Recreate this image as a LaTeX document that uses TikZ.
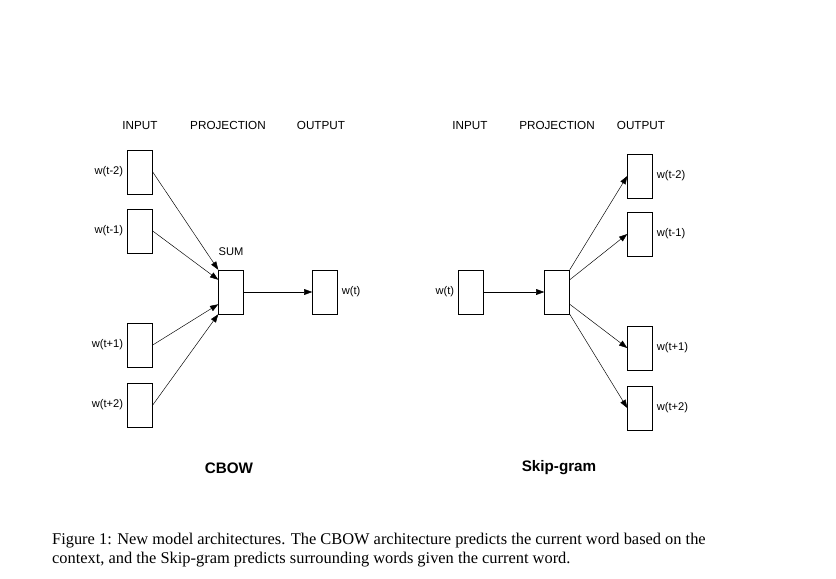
\documentclass[tikz,border=0pt]{standalone}
\usepackage{fontspec}
\setmainfont{Liberation Sans}
\newfontfamily\capfont{Liberation Serif}
\usetikzlibrary{arrows.meta}
\tikzset{
  wbox/.style={draw, thin, minimum width=25*0.03cm, minimum height=44*0.03cm, inner sep=0pt},
  lbl/.style={font=\fontsize{9.5}{11}\selectfont},
  head/.style={font=\fontsize{10}{12}\selectfont, anchor=base},
  arr/.style={-{Triangle[length=7pt,width=5pt]}, thin}
}
\begin{document}
\begin{tikzpicture}[x=0.03cm,y=-0.03cm]
    \fill[white] (0,0) rectangle (836,578);

    % CBOW
    \node[head] (inA) at (140,129) {INPUT};
    \node[head] (prA) at (228,129) {PROJECTION};
    \node[head] (ouA) at (321,129) {OUTPUT};
    \node[wbox] (cm2) at (140,172) {};
    \node[wbox] (cm1) at (140,231) {};
    \node[wbox] (cp1) at (140,345) {};
    \node[wbox] (cp2) at (140,405) {};
    \node[wbox] (sum) at (231,292) {};
    \node[wbox] (cout) at (325,292) {};
    \node[lbl, anchor=east] at (cm2.west) {w(t-2)};
    \node[lbl, anchor=east] at (cm1.west) {w(t-1)};
    \node[lbl, anchor=east] at (cp1.west) {w(t+1)};
    \node[lbl, anchor=east] at (cp2.west) {w(t+2)};
    \node[lbl, anchor=west] at (cout.east) {w(t)};
    \node[lbl] at (231,252) {SUM};
    \draw[arr] (cm2.east) -- (sum.north west);
    \draw[arr] (cm1.east) -- ([yshift=-0.3cm]sum.north west);
    \draw[arr] (cp1.east) -- ([yshift=0.3cm]sum.south west);
    \draw[arr] (cp2.east) -- (sum.south west);
    \draw[arr] (sum) -- (cout);
    \node[font=\bfseries\fontsize{13}{15}\selectfont] at (229,468) {CBOW};

    % Skip-gram
    \node[head] (inB) at (470,129) {INPUT};
    \node[head] (prB) at (557,129) {PROJECTION};
    \node[head] (ouB) at (641,129) {OUTPUT};
    \node[wbox] (sin) at (471,292) {};
    \node[wbox] (proj) at (557,292) {};
    \node[wbox] (sm2) at (640,176) {};
    \node[wbox] (sm1) at (640,234) {};
    \node[wbox] (sp1) at (640,348) {};
    \node[wbox] (sp2) at (640,408) {};
    \node[lbl, anchor=east] at (sin.west) {w(t)};
    \node[lbl, anchor=west] at (sm2.east) {w(t-2)};
    \node[lbl, anchor=west] at (sm1.east) {w(t-1)};
    \node[lbl, anchor=west] at (sp1.east) {w(t+1)};
    \node[lbl, anchor=west] at (sp2.east) {w(t+2)};
    \draw[arr] (sin) -- (proj);
    \draw[arr] (proj.north east) -- (sm2.west);
    \draw[arr] ([yshift=-0.3cm]proj.north east) -- (sm1.west);
    \draw[arr] ([yshift=0.3cm]proj.south east) -- (sp1.west);
    \draw[arr] (proj.south east) -- (sp2.west);
    \node[font=\bfseries\fontsize{13}{15}\selectfont] at (559,468) {Skip-gram};

    \node[font=\capfont\fontsize{14}{16.5}\selectfont, anchor=north west, align=left] (cap) at (48,529)
      {Figure 1: New model architectures. The CBOW architecture predicts the current word based on the\\
       context, and the Skip-gram predicts surrounding words given the current word.};
\end{tikzpicture}
\end{document}
